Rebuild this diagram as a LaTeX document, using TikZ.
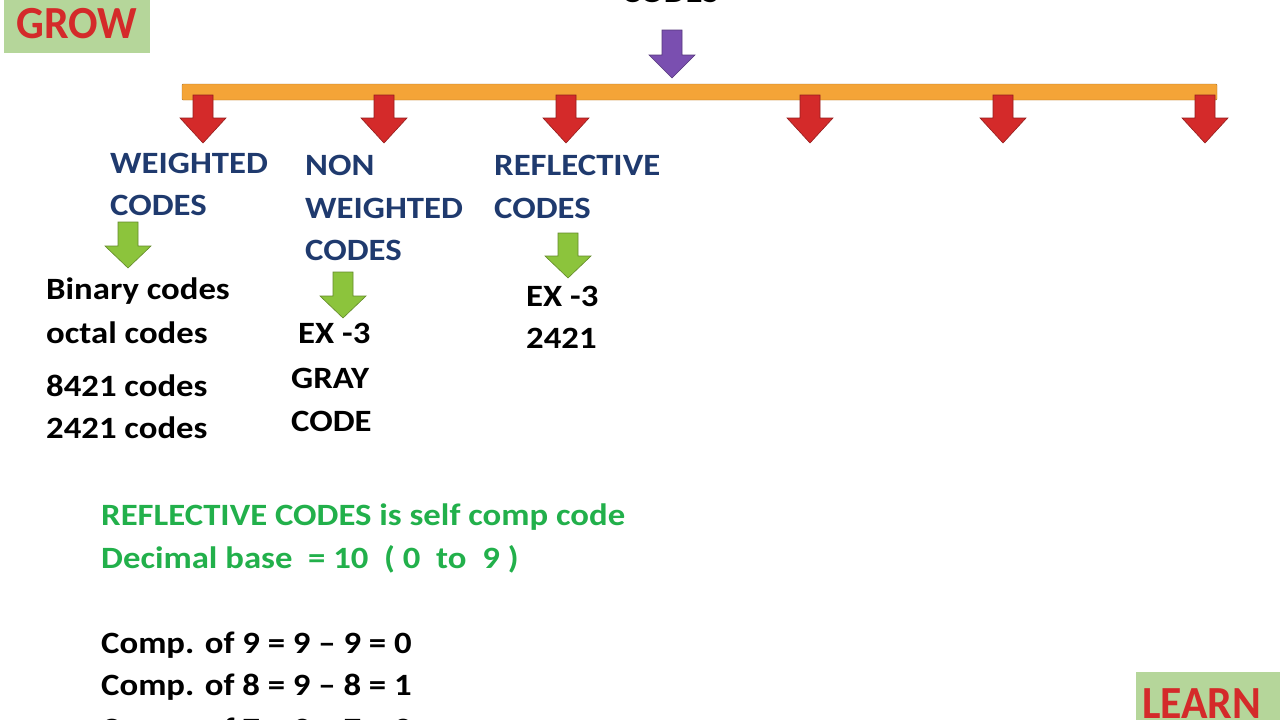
\documentclass[tikz,border=0pt]{standalone}
\usepackage{fontspec}
\setmainfont{Carlito}
\definecolor{navy}{HTML}{1F3A6E}
\definecolor{tgreen}{HTML}{22B04B}
\definecolor{ared}{HTML}{D42A2A}
\definecolor{apurple}{HTML}{7A4FB0}
\definecolor{agreen}{HTML}{8CC43C}
\definecolor{bar}{HTML}{F4A437}
\definecolor{boxg}{HTML}{B5D69A}
\begin{document}
\begin{tikzpicture}[x=1pt,y=-1pt,
  txt/.style={anchor=west,inner sep=0pt,xscale=1.12,font=\fontsize{31}{34}\selectfont\bfseries},
  nv/.style={txt,text=navy},
  gr/.style={txt,text=tgreen},
  bk/.style={txt,text=black}]
\useasboundingbox (0,0) rectangle (1280,720);
\clip (0,0) rectangle (1280,720);
\newcommand{\fatarrow}[5]{\fill[#5,draw=#5!70!black,line width=0.6pt] (#1-10,#2) -- (#1+10,#2) -- (#1+10,#3) -- (#1+23,#3) -- (#1,#4) -- (#1-23,#3) -- (#1-10,#3) -- cycle;}
\node[fill=boxg,minimum width=146pt,minimum height=53pt,inner sep=0pt,anchor=north west] (grow) at (4,0) {};
\node[text=ared,inner sep=0pt,xscale=0.95,font=\fontsize{46}{48}\selectfont\bfseries] (growt) at (77,24) {GROW};
\node[fill=boxg,minimum width=144pt,minimum height=48pt,inner sep=0pt,anchor=north west] (learn) at (1136,672) {};
\node[text=ared,inner sep=0pt,xscale=0.95,font=\fontsize{46}{48}\selectfont\bfseries,anchor=west] (learnt) at (1142,704) {LEARN};
\node[bk] (codes) at (622,-8) {CODES};
\fatarrow{672}{30}{55}{78}{apurple}
\fill[bar,draw=bar!70!black,rounded corners=1pt] (182,84) rectangle (1217,100);
\foreach \x in {203,384,566,810,1003,1205}{\fatarrow{\x}{95}{118}{143}{ared}}
\fatarrow{128}{222}{246}{268}{agreen}
\fatarrow{343}{272}{296}{318}{agreen}
\fatarrow{568}{233}{256}{278}{agreen}
\node[nv] (w1) at (110,163) {WEIGHTED};
\node[nv] (w2) at (110,205) {CODES};
\node[nv] (n1) at (305,165) {NON};
\node[nv] (n2) at (305,208) {WEIGHTED};
\node[nv] (n3) at (305,250) {CODES};
\node[nv] (r1) at (494,165) {REFLECTIVE};
\node[nv] (r2) at (494,208) {CODES};
\node[bk] (b1) at (46,291) {Binary codes};
\node[bk] (b2) at (46,333) {octal codes};
\node[bk] (b3) at (46,386) {8421 codes};
\node[bk] (b4) at (46,428) {2421 codes};
\node[bk] (e1) at (298,333) {EX -3};
\node[bk] (e2) at (291,378) {GRAY};
\node[bk] (e3) at (291,421) {CODE};
\node[bk] (f1) at (526,296) {EX -3};
\node[bk] (f2) at (526,338) {2421};
\node[gr] (g1) at (101,517) {REFLECTIVE CODES is self comp code};
\node[gr] (g2) at (101,559) {Decimal base~~= 10~~( 0~~to~~9 )};
\node[bk] (c1) at (101,645) {Comp. of 9 = 9 – 9 = 0};
\node[bk] (c2) at (101,687) {Comp. of 8 = 9 – 8 = 1};
\node[bk] (c3) at (101,731) {Comp. of 7 = 9 – 7 = 2};
\end{tikzpicture}
\end{document}
